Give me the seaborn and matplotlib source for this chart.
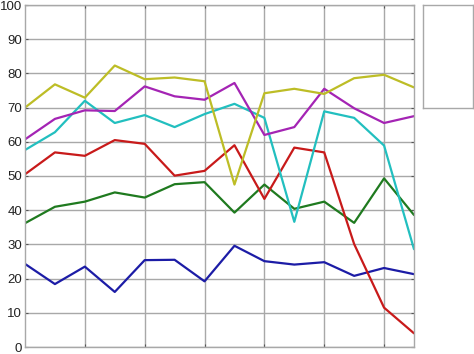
import matplotlib
matplotlib.use("Agg")
import matplotlib.pyplot as plt
import seaborn as sns
import pandas as pd
import numpy as np

x_vals = list(range(14))
yellow = [70, 76.8, 72.9, 82.3, 78.3, 78.8, 77.7, 47.5, 74.2, 75.5, 74.0, 78.6, 79.6, 75.9]
magenta = [60.7, 66.7, 69.2, 69.0, 76.2, 73.3, 72.3, 77.2, 62.0, 64.3, 75.5, 69.8, 65.5, 67.5]
cyan = [57.6, 62.8, 72.0, 65.5, 67.8, 64.3, 68.1, 71.1, 67.0, 36.6, 68.9, 67.0, 58.9, 28.6]
red = [50.5, 56.9, 55.9, 60.5, 59.4, 50.1, 51.5, 59.0, 43.3, 58.3, 56.9, 30.1, 11.5, 4.0]
green = [36.2, 41.0, 42.5, 45.2, 43.7, 47.6, 48.2, 39.3, 47.5, 40.4, 42.5, 36.3, 49.3, 38.6]
blue = [24.3, 18.4, 23.5, 16.1, 25.4, 25.5, 19.2, 29.6, 25.1, 24.1, 24.8, 20.8, 23.1, 21.3]
series_names = ["blue", "green", "red", "cyan", "magenta", "yellow"]
y_ticks = [0, 10, 20, 30, 40, 50, 60, 70, 80, 90, 100]

series = {"blue": blue, "green": green, "red": red, "cyan": cyan,
          "magenta": magenta, "yellow": yellow}
rows = []
for name in series_names:
    for xv, yv in zip(x_vals, series[name]):
        rows.append({"x": xv, "y": yv, "s": name})
df = pd.DataFrame(rows)

palette = {"blue": "#1c1ca6", "green": "#1f7a1f", "red": "#c81a1a",
           "cyan": "#22bfbf", "magenta": "#a424b4", "yellow": "#bdbd26"}

sns.set_style("white")
plt.rcParams['font.family'] = ['Liberation Sans', 'DejaVu Sans']

fig = plt.figure(figsize=(4.74, 3.54), dpi=100)
ax = fig.add_axes([25/474, 1-347/354, 389/474, 342/354])
sns.lineplot(data=df, x="x", y="y", hue="s", palette=palette, ax=ax,
             legend=False, linewidth=1.6, hue_order=series_names)

ax.set_xlim(0, 13)
ax.set_ylim(0, 100)
ax.set_yticks(y_ticks)
ax.set_yticklabels([str(t) for t in y_ticks], fontsize=9.5, color="#222222")
ax.set_xticks([2, 4, 6, 8, 10, 12])
ax.set_xticklabels([])
ax.set_xlabel("")
ax.set_ylabel("")
ax.grid(True, color="#a8a8a8", linewidth=1.0)
ax.set_axisbelow(True)
ax.tick_params(axis="both", direction="in", length=2.5, color="#555555",
               top=True, right=True, left=True, bottom=True, pad=2)
for sp in ax.spines.values():
    sp.set_color("#a8a8a8")
    sp.set_linewidth(1.0)

lax = fig.add_axes([423/474, 1-108/354, 50/474, 103/354])
lax.set_xticks([])
lax.set_yticks([])
for sp in lax.spines.values():
    sp.set_color("#a8a8a8")
    sp.set_linewidth(1.0)

fig.savefig("out.png", dpi=100)
